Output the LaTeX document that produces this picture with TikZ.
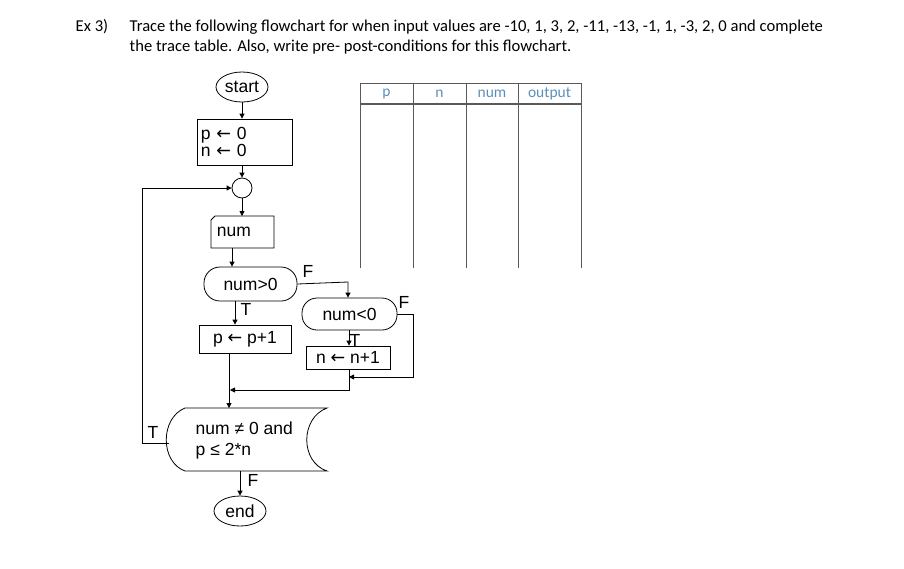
\documentclass[tikz,border=0pt]{standalone}
\usepackage{fontspec}
\setmainfont{Carlito}
\newfontfamily\arialf{Liberation Sans}
\newfontfamily\djf{DejaVu Sans}
\usetikzlibrary{shapes.geometric,arrows.meta}
\definecolor{hdr}{HTML}{5B8FB9}
\newcommand{\la}{{\djf ←}}
\begin{document}
\begin{tikzpicture}[x=1pt,y=-1pt,line width=0.8pt,
  box/.style={draw,rectangle},
  flab/.style={font=\arialf\fontsize{17.5}{20}\selectfont},
  arr/.style={-{Triangle[length=5pt,width=5pt]}},
  hd/.style={text=hdr,font=\fontsize{15.5}{18}\selectfont}]
\useasboundingbox (0,0) rectangle (904,568);
% title
\node[anchor=west,font=\fontsize{16.6}{19}\selectfont] (ex) at (72,27) {Ex 3)};
\node[anchor=west,font=\fontsize{16.6}{19}\selectfont] (t1) at (126,27) {Trace the following flowchart for when input values are -10, 1, 3, 2, -11, -13, -1, 1, -3, 2, 0 and complete};
\node[anchor=west,font=\fontsize{16.6}{19}\selectfont] (t2) at (126,47) {the trace table. Also, write pre- post-conditions for this flowchart.};
% flowchart
\node[draw,ellipse,minimum width=52pt,minimum height=30pt,inner sep=0pt,flab] (start) at (242,87) {start};
\node[box,minimum width=95pt,minimum height=46pt,align=left,inner sep=3pt,flab,anchor=west,text width=88pt] (init) at (197,142) {p \la\ 0\\[-3pt]n \la\ 0};
\node[draw,circle,minimum size=20pt,inner sep=0pt] (c) at (242,188) {};
\draw (211,220) -- (215,216) -- (274,216) -- (274,248) -- (211,248) -- cycle;
\node[flab] (num) at (234,232) {num};
\coordinate (numt) at (242,216);
\coordinate (numb) at (232,248);
\node[draw,rounded corners=16pt,minimum width=93pt,minimum height=34pt,flab] (g1) at (250.5,284) {num>0};
\node[draw,rounded corners=15pt,minimum width=95pt,minimum height=32pt,flab] (g2) at (349.5,314) {num<0};
\node[box,minimum width=92pt,minimum height=28pt,flab] (pp) at (245,339) {p \la\ p+1};
\node[box,minimum width=84pt,minimum height=23pt,inner sep=1pt,flab] (nn) at (348,357.5) {n \la\ n+1};
% loop shape
\draw (185,408) -- (327,408) .. controls (300,418) and (300,462) .. (327,471) -- (185,471) .. controls (160,462) and (160,418) .. (185,408);
\node[flab,anchor=west,align=left] (cond) at (192,440) {num ≠ 0 and\\[1pt]p ≤ 2*n};
\coordinate (condt) at (229,408);
\coordinate (condl) at (169,443);
\coordinate (condb) at (240,471);
\node[draw,ellipse,minimum width=52pt,minimum height=30pt,inner sep=0pt,flab] (end) at (240,511) {end};
% connectors
\draw[arr] (start.south) -- (init.north -| start);
\draw[arr] (init.south -| c) -- (c.north);
\draw[arr] (c.south) -- (numt);
\draw[arr] (numb) -- (g1.north -| numb);
\draw[arr] (g1.south -| 235,0) -- (pp.north -| 235,0);
\node[flab] (T1) at (246,309) {T};
\draw[arr] (g1.east) -- (348,282) -- (g2.north -| 348,0);
\node[flab] (F1) at (308,271) {F};
\draw[arr] (g2.south -| 349,0) -- (nn.north -| 349,0);
\node[flab] (T2) at (355,340) {T};
\draw[arr] (g2.east) -- (413,314) -- (413,377) -- (349,377);
\node[flab] (F2) at (404,302) {F};
\draw[arr] (nn.south -| 349,0) -- (349,390) -- (230,390);
\draw[arr] (pp.south -| 229,0) -- (condt);
\draw[arr] (condl) -- (142,443) -- (142,188) -- (c.west);
\node[flab] (T3) at (153,432) {T};
\draw[arr] (condb) -- (end.north -| condb);
\node[flab] (F3) at (253,480) {F};
% table
\draw[line width=0.6pt,gray!70!black] (360,83) -- (581,83);
\draw[line width=1.3pt,gray!70!black] (360,104) -- (581,104);
\foreach \x in {360,413,466,518,581} \draw[line width=0.6pt,gray!70!black] (\x,83) -- (\x,268);
\node[hd] (hp) at (386.5,94) {p};
\node[hd] (hn) at (439.5,94) {n};
\node[hd] (hnum) at (492,94) {num};
\node[hd] (hout) at (549.5,94) {output};
\end{tikzpicture}
\end{document}
